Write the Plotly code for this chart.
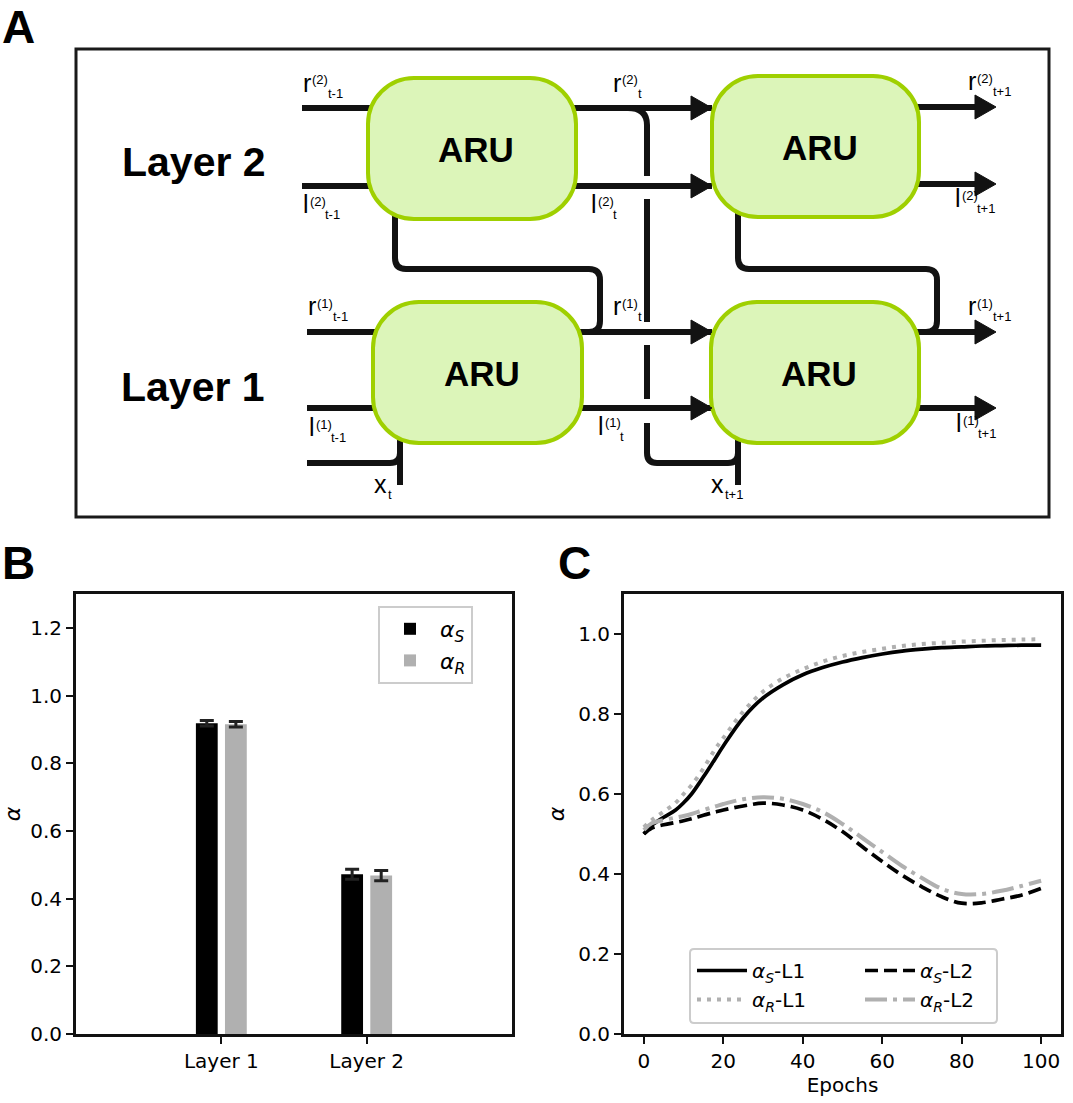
import plotly.graph_objects as go

W, H = 1073, 1103

# ---------------- Panel B data ----------------
layers = ["Layer 1", "Layer 2"]
alpha_s_mean = [0.918, 0.472]
alpha_s_err = [0.008, 0.015]
alpha_r_mean = [0.915, 0.468]
alpha_r_err = [0.008, 0.015]

# ---------------- Panel C data ----------------
epochs = [0, 2, 5, 8, 10, 12, 15, 18, 20, 25, 30, 35, 40, 45, 50, 55, 60, 65, 70, 75, 80, 85, 90, 95, 100]
alpha_s_l1 = [0.500, 0.522, 0.542, 0.560, 0.578, 0.600, 0.643, 0.689, 0.720, 0.790, 0.840, 0.873, 0.898,
              0.916, 0.930, 0.941, 0.950, 0.957, 0.962, 0.966, 0.968, 0.970, 0.971, 0.972, 0.972]
alpha_r_l1 = [0.517, 0.535, 0.556, 0.578, 0.600, 0.622, 0.664, 0.713, 0.740, 0.806, 0.856, 0.889, 0.912,
              0.931, 0.945, 0.955, 0.963, 0.970, 0.975, 0.978, 0.981, 0.983, 0.985, 0.986, 0.987]
alpha_s_l2 = [0.500, 0.515, 0.523, 0.529, 0.533, 0.538, 0.547, 0.555, 0.560, 0.570, 0.577, 0.5725, 0.560,
              0.537, 0.506, 0.468, 0.431, 0.397, 0.368, 0.343, 0.327, 0.328, 0.337, 0.347, 0.364]
alpha_r_l2 = [0.510, 0.527, 0.535, 0.541, 0.545, 0.550, 0.560, 0.569, 0.575, 0.587, 0.592, 0.588, 0.575,
              0.555, 0.525, 0.490, 0.455, 0.420, 0.390, 0.363, 0.350, 0.350, 0.358, 0.370, 0.383]

# ---------------- Panel A diagram text ----------------
layer_names = ["Layer 2", "Layer 1"]
unit_name = "ARU"
# (main symbol, superscript, subscript)
signal_labels = [
    ("r", "(2)", "t-1"), ("l", "(2)", "t-1"), ("r", "(2)", "t"), ("l", "(2)", "t"),
    ("r", "(2)", "t+1"), ("l", "(2)", "t+1"),
    ("r", "(1)", "t-1"), ("l", "(1)", "t-1"), ("r", "(1)", "t"), ("l", "(1)", "t"),
    ("r", "(1)", "t+1"), ("l", "(1)", "t+1"),
    ("x", "", "t"), ("x", "", "t+1"),
]
panel_letters = ["A", "B", "C"]

BLACK = "#000000"
GRAY = "#b0b0b0"
LINE = "#121212"
BOX_FILL = "#dcf5b9"
BOX_EDGE = "#9fd000"
DEJAVU = "DejaVu Sans"
ARIAL = "Liberation Sans, Arial"


def X(px):
    return px / W


def Y(py):
    return 1 - py / H


def path(cmds):
    out = []
    for c in cmds:
        if isinstance(c, str):
            out.append(c)
        else:
            out.append(f"{X(c[0]):.6f},{Y(c[1]):.6f}")
    return " ".join(out)


shapes = []
annotations = []


def add_path(cmds, width=6, color=LINE, fill=None):
    d = dict(type="path", xref="paper", yref="paper", path=path(cmds),
             line=dict(color=color, width=width))
    if fill:
        d["fillcolor"] = fill
    shapes.append(d)


def hline(x0, x1, y, width=6):
    add_path(["M", (x0, y), "L", (x1, y)], width)


def vline(x, y0, y1, width=6):
    add_path(["M", (x, y0), "L", (x, y1)], width)


def arrow(tip_x, y, length=21, half=12):
    add_path(["M", (tip_x - length, y - half), "L", (tip_x, y), "L", (tip_x - length, y + half), "Z"],
             width=1, color=LINE, fill=LINE)


def rrect(x0, y0, x1, y1, r=46):
    k = r * 0.5523
    add_path(["M", (x0 + r, y0), "L", (x1 - r, y0),
              "C", (x1 - r + k, y0), (x1, y0 + r - k), (x1, y0 + r),
              "L", (x1, y1 - r),
              "C", (x1, y1 - r + k), (x1 - r + k, y1), (x1 - r, y1),
              "L", (x0 + r, y1),
              "C", (x0 + r - k, y1), (x0, y1 - r + k), (x0, y1 - r),
              "L", (x0, y0 + r),
              "C", (x0, y0 + r - k), (x0 + r - k, y0), (x0 + r, y0), "Z"],
             width=4, color=BOX_EDGE, fill=BOX_FILL)


def text(t, x, y, size, family=ARIAL, bold=False, xanchor="center", yanchor="middle", color=BLACK):
    annotations.append(dict(xref="paper", yref="paper", x=X(x), y=Y(y), text=t, showarrow=False,
                            xanchor=xanchor, yanchor=yanchor, borderpad=0,
                            font=dict(family=family, size=size, color=color,
                                      weight="bold" if bold else "normal")))


# outer frame of panel A
shapes.append(dict(type="rect", xref="paper", yref="paper", x0=X(76), x1=X(1049), y0=Y(49), y1=Y(517),
                   line=dict(color="#1a1a1a", width=3)))

# ---- connectors (drawn below boxes) ----
hline(302, 712, 108)
hline(302, 712, 186)
hline(900, 980, 107)
hline(900, 980, 184)
hline(307, 712, 332)
hline(307, 712, 408)
hline(900, 980, 332)
hline(900, 980, 408)
# x_t input
add_path(["M", (307, 463), "L", (390, 463), "Q", (400, 463), (400, 453)])
vline(400, 430, 485)
# skip line and x_{t+1} input
add_path(["M", (628, 108), "Q", (647, 108), (647, 125), "L", (647, 176)])
vline(647, 199, 322)
vline(647, 345, 399)
add_path(["M", (647, 423), "L", (647, 453), "Q", (647, 463), (657, 463), "L", (728, 463),
          "Q", (738, 463), (738, 453)])
vline(738, 430, 485)
# layer 2 -> layer 1 connectors
add_path(["M", (395, 200), "L", (395, 258), "Q", (395, 269), (406, 269), "L", (589, 269),
          "Q", (600, 269), (600, 280), "L", (600, 321), "Q", (600, 332), (589, 332)])
add_path(["M", (738, 200), "L", (738, 258), "Q", (738, 269), (749, 269), "L", (926, 269),
          "Q", (937, 269), (937, 280), "L", (937, 321), "Q", (937, 332), (926, 332)])

# ---- ARU boxes ----
boxes = [(368, 78, 576, 219), (712, 76, 919, 217), (373, 302, 582, 443), (711, 302, 919, 443)]
for b in boxes:
    rrect(*b)
    text(unit_name, (b[0] + b[2]) / 2 + 4, (b[1] + b[3]) / 2 + 1, 35, bold=True)

# ---- arrows ----
for ay in (108, 186, 332, 408):
    arrow(712, ay)
for ay in (107, 184, 332, 408):
    arrow(996, ay)

# ---- signal labels ----
label_pos = [(302, 92), (302, 213), (612, 92), (590, 213), (967, 90), (954, 207),
             (307, 315), (308, 436), (612, 315), (597, 435), (967, 315), (955, 432),
             (373, 493), (710, 493)]
adv = {"r": 0.333, "l": 0.222, "x": 0.5}
FM, FS = 25, 13
for (m, sup, sub), (lx, base) in zip(signal_labels, label_pos):
    text(m, lx, base - 0.35 * FM, FM, xanchor="left")
    sx = lx + adv[m] * FM + 1
    if sup:
        text(sup, sx, base - 12, FS, xanchor="left")
        sx += 1.222 * FS
    text(sub, sx, base + 1.5, FS, xanchor="left")

# layer names
text(layer_names[0], 194, 162, 41, bold=True)
text(layer_names[1], 193, 387, 41, bold=True)

# panel letters
text(panel_letters[0], 18, 27, 46, bold=True)
text(panel_letters[1], 18, 563, 46, bold=True)
text(panel_letters[2], 574, 563, 46, bold=True)

# legend frame for panel C
add_path(["M", (694, 949), "L", (993, 949), "Q", (997, 949), (997, 953), "L", (997, 1019),
          "Q", (997, 1023), (993, 1023), "L", (694, 1023), "Q", (690, 1023), (690, 1019),
          "L", (690, 953), "Q", (690, 949), (694, 949), "Z"], width=2, color="#cccccc", fill="white")

# ---------------- traces ----------------
fig = go.Figure()
err_style = dict(type="data", color="#222222", thickness=3, width=7)
fig.add_trace(go.Bar(x=layers, y=alpha_s_mean, name="<i>α</i><sub><i>S</i></sub>",
                     marker=dict(color=BLACK, line=dict(width=0)),
                     error_y=dict(array=alpha_s_err, **err_style),
                     xaxis="x", yaxis="y", legend="legend"))
fig.add_trace(go.Bar(x=layers, y=alpha_r_mean, name="<i>α</i><sub><i>R</i></sub>",
                     marker=dict(color=GRAY, line=dict(width=0)),
                     error_y=dict(array=alpha_r_err, **err_style),
                     xaxis="x", yaxis="y", legend="legend"))

fig.add_trace(go.Scatter(x=epochs, y=alpha_s_l1, mode="lines", name="<i>α</i><sub><i>S</i></sub>-L1",
                         line=dict(color=BLACK, width=3.7, shape="spline"),
                         xaxis="x2", yaxis="y2", legend="legend2"))
fig.add_trace(go.Scatter(x=epochs, y=alpha_r_l1, mode="lines", name="<i>α</i><sub><i>R</i></sub>-L1",
                         line=dict(color=GRAY, width=4, dash="4px,6px", shape="spline"),
                         xaxis="x2", yaxis="y2", legend="legend2"))
fig.add_trace(go.Scatter(x=epochs, y=alpha_s_l2, mode="lines", name="<i>α</i><sub><i>S</i></sub>-L2",
                         line=dict(color=BLACK, width=3.7, dash="13px,6px", shape="spline"),
                         xaxis="x2", yaxis="y2", legend="legend3"))
fig.add_trace(go.Scatter(x=epochs, y=alpha_r_l2, mode="lines", name="<i>α</i><sub><i>R</i></sub>-L2",
                         line=dict(color=GRAY, width=4, dash="22px,6px,4px,6px", shape="spline"),
                         xaxis="x2", yaxis="y2", legend="legend3"))

axis_common = dict(showline=True, linecolor="#111111", linewidth=3, mirror=True, ticks="outside",
                   ticklen=7, tickwidth=2, tickcolor="#111111", showgrid=False, zeroline=False,
                   tickfont=dict(family=DEJAVU, size=20, color=BLACK), automargin=False)

ydom = [Y(1034), Y(594)]
fig.update_layout(
    width=W, height=H, margin=dict(l=0, r=0, t=0, b=0),
    paper_bgcolor="white", plot_bgcolor="white",
    barmode="group", bargap=0.6, bargroupgap=0.25,
    shapes=shapes, annotations=annotations,
    xaxis=dict(domain=[X(76), X(512)], anchor="y", range=[-1, 2], **axis_common),
    yaxis=dict(domain=ydom, anchor="x", range=[0, 1.3], tickvals=[0, 0.2, 0.4, 0.6, 0.8, 1.0, 1.2],
               tickformat=".1f",
               title=dict(text="<i>α</i>", font=dict(family=DEJAVU, size=22, color=BLACK), standoff=8),
               **axis_common),
    xaxis2=dict(domain=[X(624), X(1061)], anchor="y2", range=[-5, 105], tickvals=[0, 20, 40, 60, 80, 100],
                title=dict(text="Epochs", font=dict(family=DEJAVU, size=20, color=BLACK), standoff=6),
                **axis_common),
    yaxis2=dict(domain=ydom, anchor="x2", range=[0, 1.1], tickvals=[0, 0.2, 0.4, 0.6, 0.8, 1.0],
                tickformat=".1f",
                title=dict(text="<i>α</i>", font=dict(family=DEJAVU, size=22, color=BLACK), standoff=8),
                **axis_common),
    legend=dict(x=X(378), y=Y(606), xanchor="left", yanchor="top", bgcolor="white",
                bordercolor="#cccccc", borderwidth=2, font=dict(family=DEJAVU, size=22, color=BLACK),
                itemwidth=50),
    legend2=dict(x=X(692), y=Y(951), xanchor="left", yanchor="top", bgcolor="rgba(0,0,0,0)",
                 borderwidth=0, font=dict(family=DEJAVU, size=20, color=BLACK), itemwidth=50),
    legend3=dict(x=X(860), y=Y(951), xanchor="left", yanchor="top", bgcolor="rgba(0,0,0,0)",
                 borderwidth=0, font=dict(family=DEJAVU, size=20, color=BLACK), itemwidth=50),
)

fig.write_html("out.html", config={"displayModeBar": False},
               post_script="document.body.style.margin='0';document.body.style.overflow='hidden';")
